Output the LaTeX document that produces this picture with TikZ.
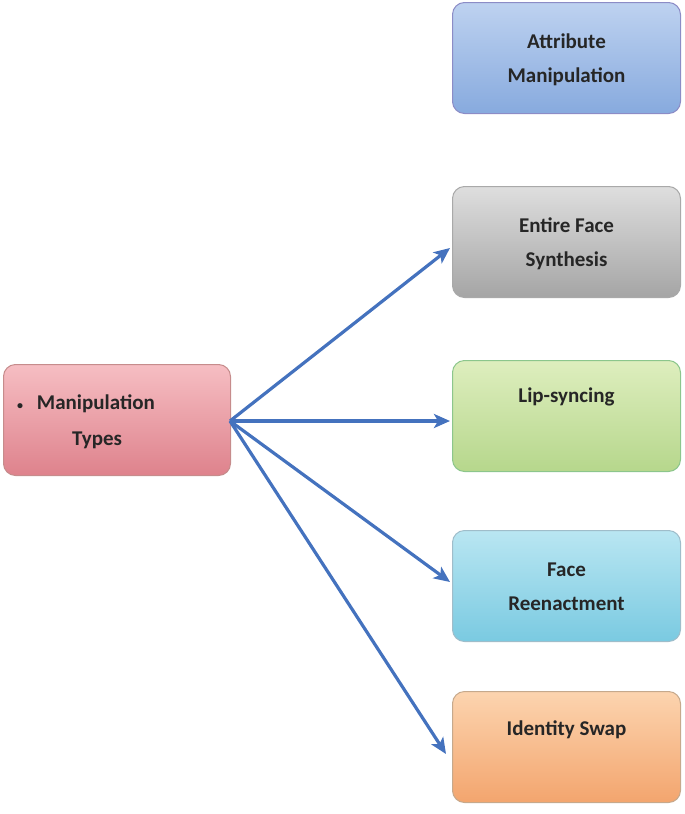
\documentclass[tikz,border=0pt]{standalone}
\usepackage{fontspec}
\setmainfont{Carlito}
\usetikzlibrary{arrows.meta}
\definecolor{arr}{RGB}{68,114,190}
\tikzset{
 box/.style={rounded corners=12pt, draw=#1!50!black!45, line width=1pt, minimum width=228pt, minimum height=111pt, anchor=north west, align=center, font=\fontsize{21}{38}\selectfont\bfseries, text=black!85},
 conn/.style={draw=arr, line width=3.2pt, -{Stealth[length=16pt,width=14pt,inset=4pt]}}
}
\begin{document}
\begin{tikzpicture}[x=1pt,y=-1pt]
\useasboundingbox (0,0) rectangle (685,814);
\node[box=blue, top color={rgb,255:red,190;green,210;blue,240}, bottom color={rgb,255:red,135;green,170;blue,222}] (attr) at (452,2) {\raisebox{17pt}{\begin{tabular}{@{}c@{}}Attribute\\[-4pt]Manipulation\end{tabular}}};
\node[box=gray, top color={rgb,255:red,222;green,222;blue,222}, bottom color={rgb,255:red,165;green,165;blue,165}] (efs) at (452,186) {\raisebox{17pt}{\begin{tabular}{@{}c@{}}Entire Face\\[-4pt]Synthesis\end{tabular}}};
\node[box=green, top color={rgb,255:red,222;green,238;blue,190}, bottom color={rgb,255:red,182;green,215;blue,140}] (lip) at (452,360) {\raisebox{41pt}{Lip-syncing}};
\node[box=cyan, top color={rgb,255:red,185;green,230;blue,242}, bottom color={rgb,255:red,122;green,202;blue,225}] (fr) at (452,530) {\raisebox{17pt}{\begin{tabular}{@{}c@{}}Face\\[-4pt]Reenactment\end{tabular}}};
\node[box=orange, top color={rgb,255:red,252;green,212;blue,175}, bottom color={rgb,255:red,243;green,165;blue,110}] (id) at (452,691) {\raisebox{37pt}{Identity Swap}};
\node[box=red, top color={rgb,255:red,246;green,190;blue,195}, bottom color={rgb,255:red,222;green,130;blue,140}, minimum width=227pt, text width=200pt, align=left] (mt) at (3,364) {\raisebox{18pt}{\begin{tabular}{@{}l@{}}{\fontsize{12}{12}\selectfont•}\ \ Manipulation\\[-2pt] \hspace{105pt}\llap{Types}\end{tabular}}};
\coordinate (s) at (230,421);
\draw[conn] (s) -- (450,248);
\draw[conn] (s) -- (450,421);
\draw[conn] (s) -- (450,582);
\draw[conn] (s) -- (446,754);
\end{tikzpicture}
\end{document}
